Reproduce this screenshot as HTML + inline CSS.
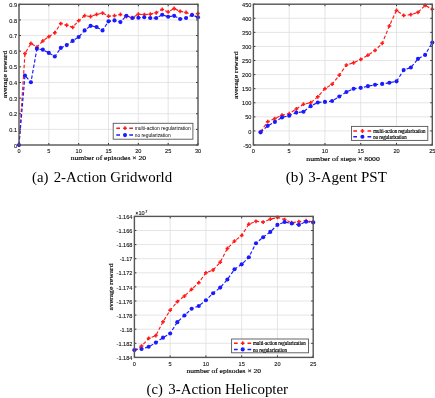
<!DOCTYPE html>
<html><head><meta charset="utf-8"><style>
html,body{margin:0;padding:0;background:#fff;}
body{width:435px;height:398px;overflow:hidden;}
svg{display:block;filter:blur(0.3px);}
.tk{font-family:"Liberation Sans",Arial,sans-serif;fill:#111;stroke:#111;stroke-width:0.1px;}
.tkl{font-family:"Liberation Sans",Arial,sans-serif;fill:#000;}
.lb{font-family:"Liberation Serif","Times New Roman",serif;font-weight:normal;fill:#000;stroke:#000;stroke-width:0.15px;}
.lbn{font-family:"Liberation Serif","Times New Roman",serif;font-weight:normal;fill:#000;stroke:#000;stroke-width:0.2px;}
.cap{font-family:"Liberation Serif","Times New Roman",serif;fill:#000;}
</style></head><body>
<svg width="435" height="398" viewBox="0 0 435 398">
<rect width="435" height="398" fill="#fff"/>
<line x1="48.83" y1="4.30" x2="48.83" y2="145.00" stroke="#dedede" stroke-width="0.8"/>
<line x1="78.67" y1="4.30" x2="78.67" y2="145.00" stroke="#dedede" stroke-width="0.8"/>
<line x1="108.50" y1="4.30" x2="108.50" y2="145.00" stroke="#dedede" stroke-width="0.8"/>
<line x1="138.33" y1="4.30" x2="138.33" y2="145.00" stroke="#dedede" stroke-width="0.8"/>
<line x1="168.17" y1="4.30" x2="168.17" y2="145.00" stroke="#dedede" stroke-width="0.8"/>
<line x1="19.00" y1="129.37" x2="198.00" y2="129.37" stroke="#dedede" stroke-width="0.8"/>
<line x1="19.00" y1="113.73" x2="198.00" y2="113.73" stroke="#dedede" stroke-width="0.8"/>
<line x1="19.00" y1="98.10" x2="198.00" y2="98.10" stroke="#dedede" stroke-width="0.8"/>
<line x1="19.00" y1="82.47" x2="198.00" y2="82.47" stroke="#dedede" stroke-width="0.8"/>
<line x1="19.00" y1="66.83" x2="198.00" y2="66.83" stroke="#dedede" stroke-width="0.8"/>
<line x1="19.00" y1="51.20" x2="198.00" y2="51.20" stroke="#dedede" stroke-width="0.8"/>
<line x1="19.00" y1="35.57" x2="198.00" y2="35.57" stroke="#dedede" stroke-width="0.8"/>
<line x1="19.00" y1="19.93" x2="198.00" y2="19.93" stroke="#dedede" stroke-width="0.8"/>
<line x1="19.00" y1="145.00" x2="19.00" y2="143.00" stroke="#222" stroke-width="0.9"/>
<line x1="19.00" y1="4.30" x2="19.00" y2="6.30" stroke="#222" stroke-width="0.9"/>
<line x1="48.83" y1="145.00" x2="48.83" y2="143.00" stroke="#222" stroke-width="0.9"/>
<line x1="48.83" y1="4.30" x2="48.83" y2="6.30" stroke="#222" stroke-width="0.9"/>
<line x1="78.67" y1="145.00" x2="78.67" y2="143.00" stroke="#222" stroke-width="0.9"/>
<line x1="78.67" y1="4.30" x2="78.67" y2="6.30" stroke="#222" stroke-width="0.9"/>
<line x1="108.50" y1="145.00" x2="108.50" y2="143.00" stroke="#222" stroke-width="0.9"/>
<line x1="108.50" y1="4.30" x2="108.50" y2="6.30" stroke="#222" stroke-width="0.9"/>
<line x1="138.33" y1="145.00" x2="138.33" y2="143.00" stroke="#222" stroke-width="0.9"/>
<line x1="138.33" y1="4.30" x2="138.33" y2="6.30" stroke="#222" stroke-width="0.9"/>
<line x1="168.17" y1="145.00" x2="168.17" y2="143.00" stroke="#222" stroke-width="0.9"/>
<line x1="168.17" y1="4.30" x2="168.17" y2="6.30" stroke="#222" stroke-width="0.9"/>
<line x1="198.00" y1="145.00" x2="198.00" y2="143.00" stroke="#222" stroke-width="0.9"/>
<line x1="198.00" y1="4.30" x2="198.00" y2="6.30" stroke="#222" stroke-width="0.9"/>
<line x1="19.00" y1="145.00" x2="21.00" y2="145.00" stroke="#222" stroke-width="0.9"/>
<line x1="198.00" y1="145.00" x2="196.00" y2="145.00" stroke="#222" stroke-width="0.9"/>
<line x1="19.00" y1="129.37" x2="21.00" y2="129.37" stroke="#222" stroke-width="0.9"/>
<line x1="198.00" y1="129.37" x2="196.00" y2="129.37" stroke="#222" stroke-width="0.9"/>
<line x1="19.00" y1="113.73" x2="21.00" y2="113.73" stroke="#222" stroke-width="0.9"/>
<line x1="198.00" y1="113.73" x2="196.00" y2="113.73" stroke="#222" stroke-width="0.9"/>
<line x1="19.00" y1="98.10" x2="21.00" y2="98.10" stroke="#222" stroke-width="0.9"/>
<line x1="198.00" y1="98.10" x2="196.00" y2="98.10" stroke="#222" stroke-width="0.9"/>
<line x1="19.00" y1="82.47" x2="21.00" y2="82.47" stroke="#222" stroke-width="0.9"/>
<line x1="198.00" y1="82.47" x2="196.00" y2="82.47" stroke="#222" stroke-width="0.9"/>
<line x1="19.00" y1="66.83" x2="21.00" y2="66.83" stroke="#222" stroke-width="0.9"/>
<line x1="198.00" y1="66.83" x2="196.00" y2="66.83" stroke="#222" stroke-width="0.9"/>
<line x1="19.00" y1="51.20" x2="21.00" y2="51.20" stroke="#222" stroke-width="0.9"/>
<line x1="198.00" y1="51.20" x2="196.00" y2="51.20" stroke="#222" stroke-width="0.9"/>
<line x1="19.00" y1="35.57" x2="21.00" y2="35.57" stroke="#222" stroke-width="0.9"/>
<line x1="198.00" y1="35.57" x2="196.00" y2="35.57" stroke="#222" stroke-width="0.9"/>
<line x1="19.00" y1="19.93" x2="21.00" y2="19.93" stroke="#222" stroke-width="0.9"/>
<line x1="198.00" y1="19.93" x2="196.00" y2="19.93" stroke="#222" stroke-width="0.9"/>
<line x1="19.00" y1="4.30" x2="21.00" y2="4.30" stroke="#222" stroke-width="0.9"/>
<line x1="198.00" y1="4.30" x2="196.00" y2="4.30" stroke="#222" stroke-width="0.9"/>
<polyline points="19.00,145.00 24.97,53.55 30.93,43.38 36.90,47.14 42.87,40.88 48.83,36.66 54.80,32.75 60.77,23.53 66.73,25.25 72.70,27.28 78.67,20.72 84.63,15.71 90.60,16.49 96.57,14.46 102.53,13.05 108.50,16.18 114.47,15.71 120.43,14.46 126.40,16.49 132.37,17.74 138.33,14.15 144.30,14.62 150.27,14.15 156.23,12.74 162.20,9.46 168.17,11.96 174.13,8.52 180.10,11.34 186.07,12.43 192.03,14.77 198.00,13.52" fill="none" stroke="#ff1a1a" stroke-width="1.15" stroke-dasharray="3.5 2"/>
<path d="M17.10 145.00H20.90M19.00 143.10V146.90" stroke="#ff1a1a" stroke-width="1.5" fill="none"/>
<path d="M23.07 53.55H26.87M24.97 51.65V55.45" stroke="#ff1a1a" stroke-width="1.5" fill="none"/>
<path d="M29.03 43.38H32.83M30.93 41.48V45.28" stroke="#ff1a1a" stroke-width="1.5" fill="none"/>
<path d="M35.00 47.14H38.80M36.90 45.24V49.04" stroke="#ff1a1a" stroke-width="1.5" fill="none"/>
<path d="M40.97 40.88H44.77M42.87 38.98V42.78" stroke="#ff1a1a" stroke-width="1.5" fill="none"/>
<path d="M46.93 36.66H50.73M48.83 34.76V38.56" stroke="#ff1a1a" stroke-width="1.5" fill="none"/>
<path d="M52.90 32.75H56.70M54.80 30.85V34.65" stroke="#ff1a1a" stroke-width="1.5" fill="none"/>
<path d="M58.87 23.53H62.67M60.77 21.63V25.43" stroke="#ff1a1a" stroke-width="1.5" fill="none"/>
<path d="M64.83 25.25H68.63M66.73 23.35V27.15" stroke="#ff1a1a" stroke-width="1.5" fill="none"/>
<path d="M70.80 27.28H74.60M72.70 25.38V29.18" stroke="#ff1a1a" stroke-width="1.5" fill="none"/>
<path d="M76.77 20.72H80.57M78.67 18.82V22.62" stroke="#ff1a1a" stroke-width="1.5" fill="none"/>
<path d="M82.73 15.71H86.53M84.63 13.81V17.61" stroke="#ff1a1a" stroke-width="1.5" fill="none"/>
<path d="M88.70 16.49H92.50M90.60 14.59V18.39" stroke="#ff1a1a" stroke-width="1.5" fill="none"/>
<path d="M94.67 14.46H98.47M96.57 12.56V16.36" stroke="#ff1a1a" stroke-width="1.5" fill="none"/>
<path d="M100.63 13.05H104.43M102.53 11.15V14.95" stroke="#ff1a1a" stroke-width="1.5" fill="none"/>
<path d="M106.60 16.18H110.40M108.50 14.28V18.08" stroke="#ff1a1a" stroke-width="1.5" fill="none"/>
<path d="M112.57 15.71H116.37M114.47 13.81V17.61" stroke="#ff1a1a" stroke-width="1.5" fill="none"/>
<path d="M118.53 14.46H122.33M120.43 12.56V16.36" stroke="#ff1a1a" stroke-width="1.5" fill="none"/>
<path d="M124.50 16.49H128.30M126.40 14.59V18.39" stroke="#ff1a1a" stroke-width="1.5" fill="none"/>
<path d="M130.47 17.74H134.27M132.37 15.84V19.64" stroke="#ff1a1a" stroke-width="1.5" fill="none"/>
<path d="M136.43 14.15H140.23M138.33 12.25V16.05" stroke="#ff1a1a" stroke-width="1.5" fill="none"/>
<path d="M142.40 14.62H146.20M144.30 12.72V16.52" stroke="#ff1a1a" stroke-width="1.5" fill="none"/>
<path d="M148.37 14.15H152.17M150.27 12.25V16.05" stroke="#ff1a1a" stroke-width="1.5" fill="none"/>
<path d="M154.33 12.74H158.13M156.23 10.84V14.64" stroke="#ff1a1a" stroke-width="1.5" fill="none"/>
<path d="M160.30 9.46H164.10M162.20 7.56V11.36" stroke="#ff1a1a" stroke-width="1.5" fill="none"/>
<path d="M166.27 11.96H170.07M168.17 10.06V13.86" stroke="#ff1a1a" stroke-width="1.5" fill="none"/>
<path d="M172.23 8.52H176.03M174.13 6.62V10.42" stroke="#ff1a1a" stroke-width="1.5" fill="none"/>
<path d="M178.20 11.34H182.00M180.10 9.44V13.24" stroke="#ff1a1a" stroke-width="1.5" fill="none"/>
<path d="M184.17 12.43H187.97M186.07 10.53V14.33" stroke="#ff1a1a" stroke-width="1.5" fill="none"/>
<path d="M190.13 14.77H193.93M192.03 12.87V16.67" stroke="#ff1a1a" stroke-width="1.5" fill="none"/>
<path d="M196.10 13.52H199.90M198.00 11.62V15.42" stroke="#ff1a1a" stroke-width="1.5" fill="none"/>
<polyline points="19.00,145.00 24.97,75.43 30.93,82.31 36.90,48.86 42.87,49.64 48.83,52.92 54.80,56.52 60.77,47.92 66.73,45.10 72.70,40.88 78.67,36.97 84.63,30.41 90.60,25.87 96.57,26.97 102.53,30.41 108.50,21.34 114.47,20.40 120.43,22.12 126.40,15.71 132.37,18.06 138.33,17.74 144.30,17.28 150.27,18.06 156.23,18.06 162.20,14.77 168.17,16.81 174.13,15.87 180.10,19.00 186.07,18.06 192.03,14.93 198.00,17.28" fill="none" stroke="#1a1aff" stroke-width="1.15" stroke-dasharray="3.5 2"/>
<circle cx="19.00" cy="145.00" r="2.05" fill="#1a1aff"/>
<circle cx="24.97" cy="75.43" r="2.05" fill="#1a1aff"/>
<circle cx="30.93" cy="82.31" r="2.05" fill="#1a1aff"/>
<circle cx="36.90" cy="48.86" r="2.05" fill="#1a1aff"/>
<circle cx="42.87" cy="49.64" r="2.05" fill="#1a1aff"/>
<circle cx="48.83" cy="52.92" r="2.05" fill="#1a1aff"/>
<circle cx="54.80" cy="56.52" r="2.05" fill="#1a1aff"/>
<circle cx="60.77" cy="47.92" r="2.05" fill="#1a1aff"/>
<circle cx="66.73" cy="45.10" r="2.05" fill="#1a1aff"/>
<circle cx="72.70" cy="40.88" r="2.05" fill="#1a1aff"/>
<circle cx="78.67" cy="36.97" r="2.05" fill="#1a1aff"/>
<circle cx="84.63" cy="30.41" r="2.05" fill="#1a1aff"/>
<circle cx="90.60" cy="25.87" r="2.05" fill="#1a1aff"/>
<circle cx="96.57" cy="26.97" r="2.05" fill="#1a1aff"/>
<circle cx="102.53" cy="30.41" r="2.05" fill="#1a1aff"/>
<circle cx="108.50" cy="21.34" r="2.05" fill="#1a1aff"/>
<circle cx="114.47" cy="20.40" r="2.05" fill="#1a1aff"/>
<circle cx="120.43" cy="22.12" r="2.05" fill="#1a1aff"/>
<circle cx="126.40" cy="15.71" r="2.05" fill="#1a1aff"/>
<circle cx="132.37" cy="18.06" r="2.05" fill="#1a1aff"/>
<circle cx="138.33" cy="17.74" r="2.05" fill="#1a1aff"/>
<circle cx="144.30" cy="17.28" r="2.05" fill="#1a1aff"/>
<circle cx="150.27" cy="18.06" r="2.05" fill="#1a1aff"/>
<circle cx="156.23" cy="18.06" r="2.05" fill="#1a1aff"/>
<circle cx="162.20" cy="14.77" r="2.05" fill="#1a1aff"/>
<circle cx="168.17" cy="16.81" r="2.05" fill="#1a1aff"/>
<circle cx="174.13" cy="15.87" r="2.05" fill="#1a1aff"/>
<circle cx="180.10" cy="19.00" r="2.05" fill="#1a1aff"/>
<circle cx="186.07" cy="18.06" r="2.05" fill="#1a1aff"/>
<circle cx="192.03" cy="14.93" r="2.05" fill="#1a1aff"/>
<circle cx="198.00" cy="17.28" r="2.05" fill="#1a1aff"/>
<rect x="19.00" y="4.30" width="179.00" height="140.70" fill="none" stroke="#555555" stroke-width="1.4"/>
<text x="19.00" y="152.70" text-anchor="middle" class="tk" font-size="5.6">0</text>
<text x="48.83" y="152.70" text-anchor="middle" class="tk" font-size="5.6">5</text>
<text x="78.67" y="152.70" text-anchor="middle" class="tk" font-size="5.6">10</text>
<text x="108.50" y="152.70" text-anchor="middle" class="tk" font-size="5.6">15</text>
<text x="138.33" y="152.70" text-anchor="middle" class="tk" font-size="5.6">20</text>
<text x="168.17" y="152.70" text-anchor="middle" class="tk" font-size="5.6">25</text>
<text x="198.00" y="152.70" text-anchor="middle" class="tk" font-size="5.6">30</text>
<text x="17.00" y="147.62" text-anchor="end" class="tk" font-size="5.6">0</text>
<text x="17.00" y="131.98" text-anchor="end" class="tk" font-size="5.6">0.1</text>
<text x="17.00" y="116.35" text-anchor="end" class="tk" font-size="5.6">0.2</text>
<text x="17.00" y="100.72" text-anchor="end" class="tk" font-size="5.6">0.3</text>
<text x="17.00" y="85.08" text-anchor="end" class="tk" font-size="5.6">0.4</text>
<text x="17.00" y="69.45" text-anchor="end" class="tk" font-size="5.6">0.5</text>
<text x="17.00" y="53.82" text-anchor="end" class="tk" font-size="5.6">0.6</text>
<text x="17.00" y="38.18" text-anchor="end" class="tk" font-size="5.6">0.7</text>
<text x="17.00" y="22.55" text-anchor="end" class="tk" font-size="5.6">0.8</text>
<text x="17.00" y="6.92" text-anchor="end" class="tk" font-size="5.6">0.9</text>
<rect x="113.2" y="123.3" width="79.7" height="15.899999999999991" fill="#fff" stroke="#555555" stroke-width="0.9"/>
<path d="M116.3 128.2h3.7M129.30 128.2h3.7" stroke="#ff1a1a" stroke-width="1.5" fill="none"/>
<path d="M116.3 135.1h3.7M129.30 135.1h3.7" stroke="#1a1aff" stroke-width="1.5" fill="none"/>
<path d="M123.10 128.20H126.90M125.00 126.30V130.10" stroke="#ff1a1a" stroke-width="1.5" fill="none"/>
<circle cx="125.00" cy="135.10" r="2.05" fill="#1a1aff"/>
<text x="134.7" y="130.11" class="tkl" font-size="5.8" textLength="56" lengthAdjust="spacingAndGlyphs">multi-action regularization</text>
<text x="134.7" y="137.01" class="tkl" font-size="5.8" textLength="36" lengthAdjust="spacingAndGlyphs">no regularization</text>
<text x="108.4" y="159.7" text-anchor="middle" class="lb" font-size="7.0" textLength="75.5" lengthAdjust="spacingAndGlyphs">number of episodes × 20</text>
<text transform="translate(7.3 74.4) rotate(-90)" x="0" y="0" text-anchor="middle" class="lb" font-size="6.6" textLength="47.8" lengthAdjust="spacingAndGlyphs">average reward</text>
<text x="32.0" y="182.2" class="cap" font-size="14" textLength="16.3" lengthAdjust="spacingAndGlyphs">(a)</text>
<text x="53.7" y="182.2" class="cap" font-size="14" textLength="118.5" lengthAdjust="spacingAndGlyphs">2-Action Gridworld</text>
<line x1="289.18" y1="4.20" x2="289.18" y2="145.00" stroke="#dedede" stroke-width="0.8"/>
<line x1="324.96" y1="4.20" x2="324.96" y2="145.00" stroke="#dedede" stroke-width="0.8"/>
<line x1="360.74" y1="4.20" x2="360.74" y2="145.00" stroke="#dedede" stroke-width="0.8"/>
<line x1="396.52" y1="4.20" x2="396.52" y2="145.00" stroke="#dedede" stroke-width="0.8"/>
<line x1="253.40" y1="130.92" x2="432.30" y2="130.92" stroke="#dedede" stroke-width="0.8"/>
<line x1="253.40" y1="116.84" x2="432.30" y2="116.84" stroke="#dedede" stroke-width="0.8"/>
<line x1="253.40" y1="102.76" x2="432.30" y2="102.76" stroke="#dedede" stroke-width="0.8"/>
<line x1="253.40" y1="88.68" x2="432.30" y2="88.68" stroke="#dedede" stroke-width="0.8"/>
<line x1="253.40" y1="74.60" x2="432.30" y2="74.60" stroke="#dedede" stroke-width="0.8"/>
<line x1="253.40" y1="60.52" x2="432.30" y2="60.52" stroke="#dedede" stroke-width="0.8"/>
<line x1="253.40" y1="46.44" x2="432.30" y2="46.44" stroke="#dedede" stroke-width="0.8"/>
<line x1="253.40" y1="32.36" x2="432.30" y2="32.36" stroke="#dedede" stroke-width="0.8"/>
<line x1="253.40" y1="18.28" x2="432.30" y2="18.28" stroke="#dedede" stroke-width="0.8"/>
<line x1="253.40" y1="145.00" x2="253.40" y2="143.00" stroke="#222" stroke-width="0.9"/>
<line x1="253.40" y1="4.20" x2="253.40" y2="6.20" stroke="#222" stroke-width="0.9"/>
<line x1="289.18" y1="145.00" x2="289.18" y2="143.00" stroke="#222" stroke-width="0.9"/>
<line x1="289.18" y1="4.20" x2="289.18" y2="6.20" stroke="#222" stroke-width="0.9"/>
<line x1="324.96" y1="145.00" x2="324.96" y2="143.00" stroke="#222" stroke-width="0.9"/>
<line x1="324.96" y1="4.20" x2="324.96" y2="6.20" stroke="#222" stroke-width="0.9"/>
<line x1="360.74" y1="145.00" x2="360.74" y2="143.00" stroke="#222" stroke-width="0.9"/>
<line x1="360.74" y1="4.20" x2="360.74" y2="6.20" stroke="#222" stroke-width="0.9"/>
<line x1="396.52" y1="145.00" x2="396.52" y2="143.00" stroke="#222" stroke-width="0.9"/>
<line x1="396.52" y1="4.20" x2="396.52" y2="6.20" stroke="#222" stroke-width="0.9"/>
<line x1="432.30" y1="145.00" x2="432.30" y2="143.00" stroke="#222" stroke-width="0.9"/>
<line x1="432.30" y1="4.20" x2="432.30" y2="6.20" stroke="#222" stroke-width="0.9"/>
<line x1="253.40" y1="145.00" x2="255.40" y2="145.00" stroke="#222" stroke-width="0.9"/>
<line x1="432.30" y1="145.00" x2="430.30" y2="145.00" stroke="#222" stroke-width="0.9"/>
<line x1="253.40" y1="130.92" x2="255.40" y2="130.92" stroke="#222" stroke-width="0.9"/>
<line x1="432.30" y1="130.92" x2="430.30" y2="130.92" stroke="#222" stroke-width="0.9"/>
<line x1="253.40" y1="116.84" x2="255.40" y2="116.84" stroke="#222" stroke-width="0.9"/>
<line x1="432.30" y1="116.84" x2="430.30" y2="116.84" stroke="#222" stroke-width="0.9"/>
<line x1="253.40" y1="102.76" x2="255.40" y2="102.76" stroke="#222" stroke-width="0.9"/>
<line x1="432.30" y1="102.76" x2="430.30" y2="102.76" stroke="#222" stroke-width="0.9"/>
<line x1="253.40" y1="88.68" x2="255.40" y2="88.68" stroke="#222" stroke-width="0.9"/>
<line x1="432.30" y1="88.68" x2="430.30" y2="88.68" stroke="#222" stroke-width="0.9"/>
<line x1="253.40" y1="74.60" x2="255.40" y2="74.60" stroke="#222" stroke-width="0.9"/>
<line x1="432.30" y1="74.60" x2="430.30" y2="74.60" stroke="#222" stroke-width="0.9"/>
<line x1="253.40" y1="60.52" x2="255.40" y2="60.52" stroke="#222" stroke-width="0.9"/>
<line x1="432.30" y1="60.52" x2="430.30" y2="60.52" stroke="#222" stroke-width="0.9"/>
<line x1="253.40" y1="46.44" x2="255.40" y2="46.44" stroke="#222" stroke-width="0.9"/>
<line x1="432.30" y1="46.44" x2="430.30" y2="46.44" stroke="#222" stroke-width="0.9"/>
<line x1="253.40" y1="32.36" x2="255.40" y2="32.36" stroke="#222" stroke-width="0.9"/>
<line x1="432.30" y1="32.36" x2="430.30" y2="32.36" stroke="#222" stroke-width="0.9"/>
<line x1="253.40" y1="18.28" x2="255.40" y2="18.28" stroke="#222" stroke-width="0.9"/>
<line x1="432.30" y1="18.28" x2="430.30" y2="18.28" stroke="#222" stroke-width="0.9"/>
<line x1="253.40" y1="4.20" x2="255.40" y2="4.20" stroke="#222" stroke-width="0.9"/>
<line x1="432.30" y1="4.20" x2="430.30" y2="4.20" stroke="#222" stroke-width="0.9"/>
<polyline points="260.56,131.76 267.71,121.63 274.87,118.53 282.02,115.15 289.18,113.74 296.34,108.96 303.49,104.17 310.65,102.76 317.80,96.85 324.96,88.68 332.12,84.17 339.27,75.16 346.43,65.03 353.58,62.77 360.74,59.39 367.90,55.17 375.05,50.38 382.21,43.34 389.36,25.88 396.52,10.40 403.68,15.46 410.83,14.62 417.99,12.37 425.14,5.33 432.30,9.27" fill="none" stroke="#ff1a1a" stroke-width="1.15" stroke-dasharray="3.5 2"/>
<path d="M258.66 131.76H262.46M260.56 129.86V133.66" stroke="#ff1a1a" stroke-width="1.5" fill="none"/>
<path d="M265.81 121.63H269.61M267.71 119.73V123.53" stroke="#ff1a1a" stroke-width="1.5" fill="none"/>
<path d="M272.97 118.53H276.77M274.87 116.63V120.43" stroke="#ff1a1a" stroke-width="1.5" fill="none"/>
<path d="M280.12 115.15H283.92M282.02 113.25V117.05" stroke="#ff1a1a" stroke-width="1.5" fill="none"/>
<path d="M287.28 113.74H291.08M289.18 111.84V115.64" stroke="#ff1a1a" stroke-width="1.5" fill="none"/>
<path d="M294.44 108.96H298.24M296.34 107.06V110.86" stroke="#ff1a1a" stroke-width="1.5" fill="none"/>
<path d="M301.59 104.17H305.39M303.49 102.27V106.07" stroke="#ff1a1a" stroke-width="1.5" fill="none"/>
<path d="M308.75 102.76H312.55M310.65 100.86V104.66" stroke="#ff1a1a" stroke-width="1.5" fill="none"/>
<path d="M315.90 96.85H319.70M317.80 94.95V98.75" stroke="#ff1a1a" stroke-width="1.5" fill="none"/>
<path d="M323.06 88.68H326.86M324.96 86.78V90.58" stroke="#ff1a1a" stroke-width="1.5" fill="none"/>
<path d="M330.22 84.17H334.02M332.12 82.27V86.07" stroke="#ff1a1a" stroke-width="1.5" fill="none"/>
<path d="M337.37 75.16H341.17M339.27 73.26V77.06" stroke="#ff1a1a" stroke-width="1.5" fill="none"/>
<path d="M344.53 65.03H348.33M346.43 63.13V66.93" stroke="#ff1a1a" stroke-width="1.5" fill="none"/>
<path d="M351.68 62.77H355.48M353.58 60.87V64.67" stroke="#ff1a1a" stroke-width="1.5" fill="none"/>
<path d="M358.84 59.39H362.64M360.74 57.49V61.29" stroke="#ff1a1a" stroke-width="1.5" fill="none"/>
<path d="M366.00 55.17H369.80M367.90 53.27V57.07" stroke="#ff1a1a" stroke-width="1.5" fill="none"/>
<path d="M373.15 50.38H376.95M375.05 48.48V52.28" stroke="#ff1a1a" stroke-width="1.5" fill="none"/>
<path d="M380.31 43.34H384.11M382.21 41.44V45.24" stroke="#ff1a1a" stroke-width="1.5" fill="none"/>
<path d="M387.46 25.88H391.26M389.36 23.98V27.78" stroke="#ff1a1a" stroke-width="1.5" fill="none"/>
<path d="M394.62 10.40H398.42M396.52 8.50V12.30" stroke="#ff1a1a" stroke-width="1.5" fill="none"/>
<path d="M401.78 15.46H405.58M403.68 13.56V17.36" stroke="#ff1a1a" stroke-width="1.5" fill="none"/>
<path d="M408.93 14.62H412.73M410.83 12.72V16.52" stroke="#ff1a1a" stroke-width="1.5" fill="none"/>
<path d="M416.09 12.37H419.89M417.99 10.47V14.27" stroke="#ff1a1a" stroke-width="1.5" fill="none"/>
<path d="M423.24 5.33H427.04M425.14 3.43V7.23" stroke="#ff1a1a" stroke-width="1.5" fill="none"/>
<path d="M430.40 9.27H434.20M432.30 7.37V11.17" stroke="#ff1a1a" stroke-width="1.5" fill="none"/>
<polyline points="260.56,132.33 267.71,125.85 274.87,121.91 282.02,117.40 289.18,115.71 296.34,112.62 303.49,111.77 310.65,106.14 317.80,102.48 324.96,101.92 332.12,101.07 339.27,96.56 346.43,92.06 353.58,88.68 360.74,87.84 367.90,86.15 375.05,84.74 382.21,83.89 389.36,82.77 396.52,81.36 403.68,70.09 410.83,67.56 417.99,58.83 425.14,54.89 432.30,42.50" fill="none" stroke="#1a1aff" stroke-width="1.15" stroke-dasharray="3.5 2"/>
<circle cx="260.56" cy="132.33" r="2.05" fill="#1a1aff"/>
<circle cx="267.71" cy="125.85" r="2.05" fill="#1a1aff"/>
<circle cx="274.87" cy="121.91" r="2.05" fill="#1a1aff"/>
<circle cx="282.02" cy="117.40" r="2.05" fill="#1a1aff"/>
<circle cx="289.18" cy="115.71" r="2.05" fill="#1a1aff"/>
<circle cx="296.34" cy="112.62" r="2.05" fill="#1a1aff"/>
<circle cx="303.49" cy="111.77" r="2.05" fill="#1a1aff"/>
<circle cx="310.65" cy="106.14" r="2.05" fill="#1a1aff"/>
<circle cx="317.80" cy="102.48" r="2.05" fill="#1a1aff"/>
<circle cx="324.96" cy="101.92" r="2.05" fill="#1a1aff"/>
<circle cx="332.12" cy="101.07" r="2.05" fill="#1a1aff"/>
<circle cx="339.27" cy="96.56" r="2.05" fill="#1a1aff"/>
<circle cx="346.43" cy="92.06" r="2.05" fill="#1a1aff"/>
<circle cx="353.58" cy="88.68" r="2.05" fill="#1a1aff"/>
<circle cx="360.74" cy="87.84" r="2.05" fill="#1a1aff"/>
<circle cx="367.90" cy="86.15" r="2.05" fill="#1a1aff"/>
<circle cx="375.05" cy="84.74" r="2.05" fill="#1a1aff"/>
<circle cx="382.21" cy="83.89" r="2.05" fill="#1a1aff"/>
<circle cx="389.36" cy="82.77" r="2.05" fill="#1a1aff"/>
<circle cx="396.52" cy="81.36" r="2.05" fill="#1a1aff"/>
<circle cx="403.68" cy="70.09" r="2.05" fill="#1a1aff"/>
<circle cx="410.83" cy="67.56" r="2.05" fill="#1a1aff"/>
<circle cx="417.99" cy="58.83" r="2.05" fill="#1a1aff"/>
<circle cx="425.14" cy="54.89" r="2.05" fill="#1a1aff"/>
<circle cx="432.30" cy="42.50" r="2.05" fill="#1a1aff"/>
<rect x="253.40" y="4.20" width="178.90" height="140.80" fill="none" stroke="#555555" stroke-width="1.4"/>
<text x="253.40" y="152.70" text-anchor="middle" class="tk" font-size="5.6">0</text>
<text x="289.18" y="152.70" text-anchor="middle" class="tk" font-size="5.6">5</text>
<text x="324.96" y="152.70" text-anchor="middle" class="tk" font-size="5.6">10</text>
<text x="360.74" y="152.70" text-anchor="middle" class="tk" font-size="5.6">15</text>
<text x="396.52" y="152.70" text-anchor="middle" class="tk" font-size="5.6">20</text>
<text x="432.30" y="152.70" text-anchor="middle" class="tk" font-size="5.6">25</text>
<text x="251.40" y="147.62" text-anchor="end" class="tk" font-size="5.6">-50</text>
<text x="251.40" y="133.54" text-anchor="end" class="tk" font-size="5.6">0</text>
<text x="251.40" y="119.46" text-anchor="end" class="tk" font-size="5.6">50</text>
<text x="251.40" y="105.38" text-anchor="end" class="tk" font-size="5.6">100</text>
<text x="251.40" y="91.30" text-anchor="end" class="tk" font-size="5.6">150</text>
<text x="251.40" y="77.22" text-anchor="end" class="tk" font-size="5.6">200</text>
<text x="251.40" y="63.14" text-anchor="end" class="tk" font-size="5.6">250</text>
<text x="251.40" y="49.06" text-anchor="end" class="tk" font-size="5.6">300</text>
<text x="251.40" y="34.98" text-anchor="end" class="tk" font-size="5.6">350</text>
<text x="251.40" y="20.90" text-anchor="end" class="tk" font-size="5.6">400</text>
<text x="251.40" y="6.82" text-anchor="end" class="tk" font-size="5.6">450</text>
<rect x="351.5" y="126.4" width="76.30000000000001" height="14.0" fill="#fff" stroke="#555555" stroke-width="0.9"/>
<path d="M353.3 131.0h3.7M367.50 131.0h3.7" stroke="#ff1a1a" stroke-width="1.5" fill="none"/>
<path d="M353.3 136.8h3.7M367.50 136.8h3.7" stroke="#1a1aff" stroke-width="1.5" fill="none"/>
<path d="M360.50 131.00H364.30M362.40 129.10V132.90" stroke="#ff1a1a" stroke-width="1.5" fill="none"/>
<circle cx="362.40" cy="136.80" r="2.05" fill="#1a1aff"/>
<text x="373.2" y="133.11" class="lbn" font-size="6.4" textLength="52.3" lengthAdjust="spacingAndGlyphs">multi-action regularization</text>
<text x="373.2" y="138.91" class="lbn" font-size="6.4" textLength="33.4" lengthAdjust="spacingAndGlyphs">no regularization</text>
<text x="343.1" y="160.5" text-anchor="middle" class="lb" font-size="7.0" textLength="73.5" lengthAdjust="spacingAndGlyphs">number of steps × 8000</text>
<text transform="translate(237.6 75.2) rotate(-90)" x="0" y="0" text-anchor="middle" class="lb" font-size="6.6" textLength="47.5" lengthAdjust="spacingAndGlyphs">average reward</text>
<text x="285.8" y="182.2" class="cap" font-size="14" textLength="17.7" lengthAdjust="spacingAndGlyphs">(b)</text>
<text x="308.3" y="182.2" class="cap" font-size="14" textLength="78.5" lengthAdjust="spacingAndGlyphs">3-Agent PST</text>
<line x1="170.16" y1="216.40" x2="170.16" y2="357.40" stroke="#dedede" stroke-width="0.8"/>
<line x1="205.92" y1="216.40" x2="205.92" y2="357.40" stroke="#dedede" stroke-width="0.8"/>
<line x1="241.68" y1="216.40" x2="241.68" y2="357.40" stroke="#dedede" stroke-width="0.8"/>
<line x1="277.44" y1="216.40" x2="277.44" y2="357.40" stroke="#dedede" stroke-width="0.8"/>
<line x1="134.40" y1="343.30" x2="313.20" y2="343.30" stroke="#dedede" stroke-width="0.8"/>
<line x1="134.40" y1="329.20" x2="313.20" y2="329.20" stroke="#dedede" stroke-width="0.8"/>
<line x1="134.40" y1="315.10" x2="313.20" y2="315.10" stroke="#dedede" stroke-width="0.8"/>
<line x1="134.40" y1="301.00" x2="313.20" y2="301.00" stroke="#dedede" stroke-width="0.8"/>
<line x1="134.40" y1="286.90" x2="313.20" y2="286.90" stroke="#dedede" stroke-width="0.8"/>
<line x1="134.40" y1="272.80" x2="313.20" y2="272.80" stroke="#dedede" stroke-width="0.8"/>
<line x1="134.40" y1="258.70" x2="313.20" y2="258.70" stroke="#dedede" stroke-width="0.8"/>
<line x1="134.40" y1="244.60" x2="313.20" y2="244.60" stroke="#dedede" stroke-width="0.8"/>
<line x1="134.40" y1="230.50" x2="313.20" y2="230.50" stroke="#dedede" stroke-width="0.8"/>
<line x1="134.40" y1="357.40" x2="134.40" y2="355.40" stroke="#222" stroke-width="0.9"/>
<line x1="134.40" y1="216.40" x2="134.40" y2="218.40" stroke="#222" stroke-width="0.9"/>
<line x1="170.16" y1="357.40" x2="170.16" y2="355.40" stroke="#222" stroke-width="0.9"/>
<line x1="170.16" y1="216.40" x2="170.16" y2="218.40" stroke="#222" stroke-width="0.9"/>
<line x1="205.92" y1="357.40" x2="205.92" y2="355.40" stroke="#222" stroke-width="0.9"/>
<line x1="205.92" y1="216.40" x2="205.92" y2="218.40" stroke="#222" stroke-width="0.9"/>
<line x1="241.68" y1="357.40" x2="241.68" y2="355.40" stroke="#222" stroke-width="0.9"/>
<line x1="241.68" y1="216.40" x2="241.68" y2="218.40" stroke="#222" stroke-width="0.9"/>
<line x1="277.44" y1="357.40" x2="277.44" y2="355.40" stroke="#222" stroke-width="0.9"/>
<line x1="277.44" y1="216.40" x2="277.44" y2="218.40" stroke="#222" stroke-width="0.9"/>
<line x1="313.20" y1="357.40" x2="313.20" y2="355.40" stroke="#222" stroke-width="0.9"/>
<line x1="313.20" y1="216.40" x2="313.20" y2="218.40" stroke="#222" stroke-width="0.9"/>
<line x1="134.40" y1="357.40" x2="136.40" y2="357.40" stroke="#222" stroke-width="0.9"/>
<line x1="313.20" y1="357.40" x2="311.20" y2="357.40" stroke="#222" stroke-width="0.9"/>
<line x1="134.40" y1="343.30" x2="136.40" y2="343.30" stroke="#222" stroke-width="0.9"/>
<line x1="313.20" y1="343.30" x2="311.20" y2="343.30" stroke="#222" stroke-width="0.9"/>
<line x1="134.40" y1="329.20" x2="136.40" y2="329.20" stroke="#222" stroke-width="0.9"/>
<line x1="313.20" y1="329.20" x2="311.20" y2="329.20" stroke="#222" stroke-width="0.9"/>
<line x1="134.40" y1="315.10" x2="136.40" y2="315.10" stroke="#222" stroke-width="0.9"/>
<line x1="313.20" y1="315.10" x2="311.20" y2="315.10" stroke="#222" stroke-width="0.9"/>
<line x1="134.40" y1="301.00" x2="136.40" y2="301.00" stroke="#222" stroke-width="0.9"/>
<line x1="313.20" y1="301.00" x2="311.20" y2="301.00" stroke="#222" stroke-width="0.9"/>
<line x1="134.40" y1="286.90" x2="136.40" y2="286.90" stroke="#222" stroke-width="0.9"/>
<line x1="313.20" y1="286.90" x2="311.20" y2="286.90" stroke="#222" stroke-width="0.9"/>
<line x1="134.40" y1="272.80" x2="136.40" y2="272.80" stroke="#222" stroke-width="0.9"/>
<line x1="313.20" y1="272.80" x2="311.20" y2="272.80" stroke="#222" stroke-width="0.9"/>
<line x1="134.40" y1="258.70" x2="136.40" y2="258.70" stroke="#222" stroke-width="0.9"/>
<line x1="313.20" y1="258.70" x2="311.20" y2="258.70" stroke="#222" stroke-width="0.9"/>
<line x1="134.40" y1="244.60" x2="136.40" y2="244.60" stroke="#222" stroke-width="0.9"/>
<line x1="313.20" y1="244.60" x2="311.20" y2="244.60" stroke="#222" stroke-width="0.9"/>
<line x1="134.40" y1="230.50" x2="136.40" y2="230.50" stroke="#222" stroke-width="0.9"/>
<line x1="313.20" y1="230.50" x2="311.20" y2="230.50" stroke="#222" stroke-width="0.9"/>
<line x1="134.40" y1="216.40" x2="136.40" y2="216.40" stroke="#222" stroke-width="0.9"/>
<line x1="313.20" y1="216.40" x2="311.20" y2="216.40" stroke="#222" stroke-width="0.9"/>
<polyline points="134.40,350.35 141.55,346.12 148.70,338.36 155.86,335.55 163.01,321.80 170.16,310.16 177.31,301.70 184.46,296.06 191.62,289.37 198.77,282.67 205.92,272.80 213.07,269.98 220.22,262.23 227.38,248.48 234.53,241.07 241.68,235.44 248.83,224.15 255.98,221.34 263.14,222.04 270.29,219.22 277.44,217.46 284.59,219.57 291.74,222.75 298.90,221.69 306.05,220.63 313.20,222.04" fill="none" stroke="#ff1a1a" stroke-width="1.15" stroke-dasharray="3.5 2"/>
<path d="M132.50 350.35H136.30M134.40 348.45V352.25" stroke="#ff1a1a" stroke-width="1.5" fill="none"/>
<path d="M139.65 346.12H143.45M141.55 344.22V348.02" stroke="#ff1a1a" stroke-width="1.5" fill="none"/>
<path d="M146.80 338.36H150.60M148.70 336.46V340.26" stroke="#ff1a1a" stroke-width="1.5" fill="none"/>
<path d="M153.96 335.55H157.76M155.86 333.65V337.45" stroke="#ff1a1a" stroke-width="1.5" fill="none"/>
<path d="M161.11 321.80H164.91M163.01 319.90V323.70" stroke="#ff1a1a" stroke-width="1.5" fill="none"/>
<path d="M168.26 310.16H172.06M170.16 308.26V312.06" stroke="#ff1a1a" stroke-width="1.5" fill="none"/>
<path d="M175.41 301.70H179.21M177.31 299.80V303.60" stroke="#ff1a1a" stroke-width="1.5" fill="none"/>
<path d="M182.56 296.06H186.36M184.46 294.16V297.96" stroke="#ff1a1a" stroke-width="1.5" fill="none"/>
<path d="M189.72 289.37H193.52M191.62 287.47V291.27" stroke="#ff1a1a" stroke-width="1.5" fill="none"/>
<path d="M196.87 282.67H200.67M198.77 280.77V284.57" stroke="#ff1a1a" stroke-width="1.5" fill="none"/>
<path d="M204.02 272.80H207.82M205.92 270.90V274.70" stroke="#ff1a1a" stroke-width="1.5" fill="none"/>
<path d="M211.17 269.98H214.97M213.07 268.08V271.88" stroke="#ff1a1a" stroke-width="1.5" fill="none"/>
<path d="M218.32 262.23H222.12M220.22 260.33V264.12" stroke="#ff1a1a" stroke-width="1.5" fill="none"/>
<path d="M225.48 248.48H229.28M227.38 246.58V250.38" stroke="#ff1a1a" stroke-width="1.5" fill="none"/>
<path d="M232.63 241.07H236.43M234.53 239.17V242.97" stroke="#ff1a1a" stroke-width="1.5" fill="none"/>
<path d="M239.78 235.44H243.58M241.68 233.54V237.34" stroke="#ff1a1a" stroke-width="1.5" fill="none"/>
<path d="M246.93 224.15H250.73M248.83 222.25V226.05" stroke="#ff1a1a" stroke-width="1.5" fill="none"/>
<path d="M254.08 221.34H257.88M255.98 219.44V223.24" stroke="#ff1a1a" stroke-width="1.5" fill="none"/>
<path d="M261.24 222.04H265.04M263.14 220.14V223.94" stroke="#ff1a1a" stroke-width="1.5" fill="none"/>
<path d="M268.39 219.22H272.19M270.29 217.32V221.12" stroke="#ff1a1a" stroke-width="1.5" fill="none"/>
<path d="M275.54 217.46H279.34M277.44 215.56V219.36" stroke="#ff1a1a" stroke-width="1.5" fill="none"/>
<path d="M282.69 219.57H286.49M284.59 217.67V221.47" stroke="#ff1a1a" stroke-width="1.5" fill="none"/>
<path d="M289.84 222.75H293.64M291.74 220.85V224.65" stroke="#ff1a1a" stroke-width="1.5" fill="none"/>
<path d="M297.00 221.69H300.80M298.90 219.79V223.59" stroke="#ff1a1a" stroke-width="1.5" fill="none"/>
<path d="M304.15 220.63H307.95M306.05 218.73V222.53" stroke="#ff1a1a" stroke-width="1.5" fill="none"/>
<path d="M311.30 222.04H315.10M313.20 220.14V223.94" stroke="#ff1a1a" stroke-width="1.5" fill="none"/>
<polyline points="134.40,350.00 141.55,348.94 148.70,346.82 155.86,342.60 163.01,337.66 170.16,333.43 177.31,322.15 184.46,315.45 191.62,308.75 198.77,305.94 205.92,300.30 213.07,293.25 220.22,287.60 227.38,279.50 234.53,269.27 241.68,264.34 248.83,257.29 255.98,243.19 263.14,237.20 270.29,231.91 277.44,224.86 284.59,222.04 291.74,223.45 298.90,224.86 306.05,221.69 313.20,222.39" fill="none" stroke="#1a1aff" stroke-width="1.15" stroke-dasharray="3.5 2"/>
<circle cx="134.40" cy="350.00" r="2.05" fill="#1a1aff"/>
<circle cx="141.55" cy="348.94" r="2.05" fill="#1a1aff"/>
<circle cx="148.70" cy="346.82" r="2.05" fill="#1a1aff"/>
<circle cx="155.86" cy="342.60" r="2.05" fill="#1a1aff"/>
<circle cx="163.01" cy="337.66" r="2.05" fill="#1a1aff"/>
<circle cx="170.16" cy="333.43" r="2.05" fill="#1a1aff"/>
<circle cx="177.31" cy="322.15" r="2.05" fill="#1a1aff"/>
<circle cx="184.46" cy="315.45" r="2.05" fill="#1a1aff"/>
<circle cx="191.62" cy="308.75" r="2.05" fill="#1a1aff"/>
<circle cx="198.77" cy="305.94" r="2.05" fill="#1a1aff"/>
<circle cx="205.92" cy="300.30" r="2.05" fill="#1a1aff"/>
<circle cx="213.07" cy="293.25" r="2.05" fill="#1a1aff"/>
<circle cx="220.22" cy="287.60" r="2.05" fill="#1a1aff"/>
<circle cx="227.38" cy="279.50" r="2.05" fill="#1a1aff"/>
<circle cx="234.53" cy="269.27" r="2.05" fill="#1a1aff"/>
<circle cx="241.68" cy="264.34" r="2.05" fill="#1a1aff"/>
<circle cx="248.83" cy="257.29" r="2.05" fill="#1a1aff"/>
<circle cx="255.98" cy="243.19" r="2.05" fill="#1a1aff"/>
<circle cx="263.14" cy="237.20" r="2.05" fill="#1a1aff"/>
<circle cx="270.29" cy="231.91" r="2.05" fill="#1a1aff"/>
<circle cx="277.44" cy="224.86" r="2.05" fill="#1a1aff"/>
<circle cx="284.59" cy="222.04" r="2.05" fill="#1a1aff"/>
<circle cx="291.74" cy="223.45" r="2.05" fill="#1a1aff"/>
<circle cx="298.90" cy="224.86" r="2.05" fill="#1a1aff"/>
<circle cx="306.05" cy="221.69" r="2.05" fill="#1a1aff"/>
<circle cx="313.20" cy="222.39" r="2.05" fill="#1a1aff"/>
<rect x="134.40" y="216.40" width="178.80" height="141.00" fill="none" stroke="#555555" stroke-width="1.4"/>
<text x="134.40" y="366.00" text-anchor="middle" class="tk" font-size="5.6">0</text>
<text x="170.16" y="366.00" text-anchor="middle" class="tk" font-size="5.6">5</text>
<text x="205.92" y="366.00" text-anchor="middle" class="tk" font-size="5.6">10</text>
<text x="241.68" y="366.00" text-anchor="middle" class="tk" font-size="5.6">15</text>
<text x="277.44" y="366.00" text-anchor="middle" class="tk" font-size="5.6">20</text>
<text x="313.20" y="366.00" text-anchor="middle" class="tk" font-size="5.6">25</text>
<text x="132.40" y="360.02" text-anchor="end" class="tk" font-size="5.6">-1.184</text>
<text x="132.40" y="345.92" text-anchor="end" class="tk" font-size="5.6">-1.182</text>
<text x="132.40" y="331.82" text-anchor="end" class="tk" font-size="5.6">-1.18</text>
<text x="132.40" y="317.72" text-anchor="end" class="tk" font-size="5.6">-1.178</text>
<text x="132.40" y="303.62" text-anchor="end" class="tk" font-size="5.6">-1.176</text>
<text x="132.40" y="289.52" text-anchor="end" class="tk" font-size="5.6">-1.174</text>
<text x="132.40" y="275.42" text-anchor="end" class="tk" font-size="5.6">-1.172</text>
<text x="132.40" y="261.32" text-anchor="end" class="tk" font-size="5.6">-1.17</text>
<text x="132.40" y="247.22" text-anchor="end" class="tk" font-size="5.6">-1.168</text>
<text x="132.40" y="233.12" text-anchor="end" class="tk" font-size="5.6">-1.166</text>
<text x="132.40" y="219.02" text-anchor="end" class="tk" font-size="5.6">-1.164</text>
<rect x="231.6" y="339.0" width="76.9" height="13.800000000000011" fill="#fff" stroke="#555555" stroke-width="0.9"/>
<path d="M234.0 343.2h3.7M247.50 343.2h3.7" stroke="#ff1a1a" stroke-width="1.5" fill="none"/>
<path d="M234.0 349.4h3.7M247.50 349.4h3.7" stroke="#1a1aff" stroke-width="1.5" fill="none"/>
<path d="M240.80 343.20H244.60M242.70 341.30V345.10" stroke="#ff1a1a" stroke-width="1.5" fill="none"/>
<circle cx="242.70" cy="349.40" r="2.05" fill="#1a1aff"/>
<text x="253.0" y="345.31" class="lbn" font-size="6.4" textLength="52.8" lengthAdjust="spacingAndGlyphs">multi-action regularization</text>
<text x="253.0" y="351.51" class="lbn" font-size="6.4" textLength="34" lengthAdjust="spacingAndGlyphs">no regularization</text>
<text x="223.8" y="372.5" text-anchor="middle" class="lb" font-size="7.0" textLength="74.5" lengthAdjust="spacingAndGlyphs">number of episodes × 20</text>
<text transform="translate(112.6 287.0) rotate(-90)" x="0" y="0" text-anchor="middle" class="lb" font-size="6.4" textLength="47.0" lengthAdjust="spacingAndGlyphs">average reward</text>
<text x="146.6" y="394.3" class="cap" font-size="14" textLength="16.2" lengthAdjust="spacingAndGlyphs">(c)</text>
<text x="168.3" y="394.3" class="cap" font-size="14" textLength="119.8" lengthAdjust="spacingAndGlyphs">3-Action Helicopter</text>
<text x="135.4" y="214.6" class="tk" font-size="4.6">×</text><text x="138.5" y="214.8" class="tk" font-size="5.6">10</text><text x="144.9" y="212.6" class="tk" font-size="4.4">7</text>
</svg>
</body></html>
